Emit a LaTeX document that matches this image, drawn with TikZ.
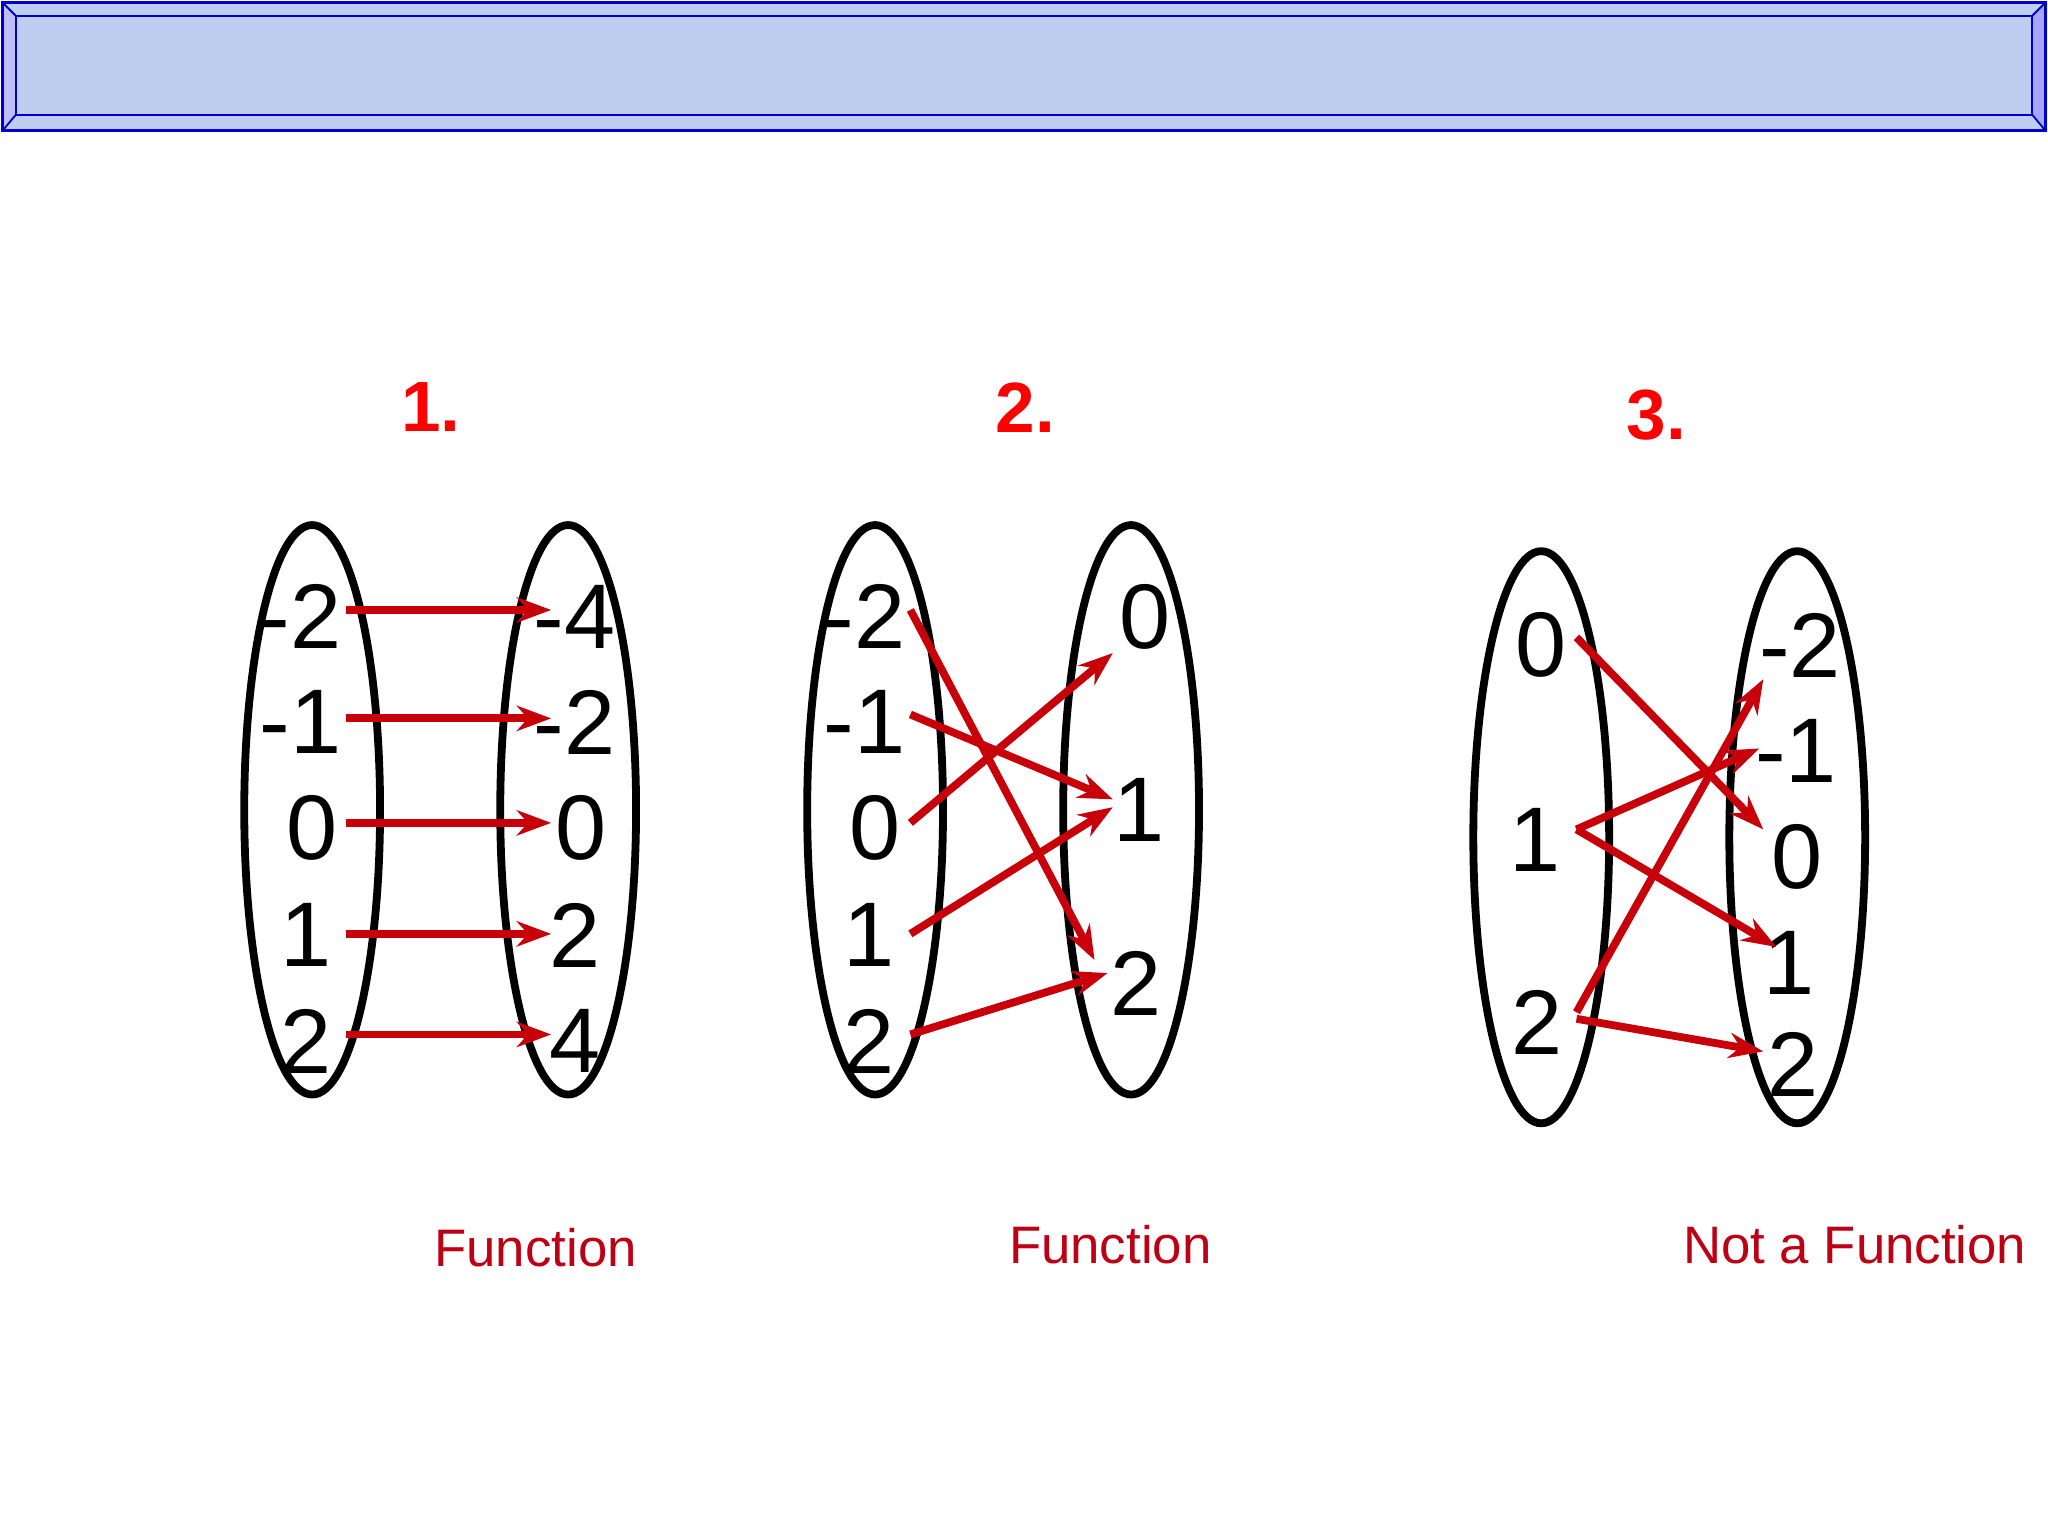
\documentclass[tikz,border=0pt]{standalone}
\usetikzlibrary{arrows.meta}
\usepackage{fontspec}
\setmainfont{Liberation Sans}
\definecolor{arr}{RGB}{200,0,10}
\definecolor{lab}{RGB}{190,0,20}
\definecolor{banner}{RGB}{190,205,240}
\begin{document}
\begin{tikzpicture}[x=0.02cm,y=-0.02cm,
  num/.style={font=\fontsize{40}{40}\selectfont,inner sep=0pt},
  ell/.style={line width=3.4pt},
  ar/.style={draw=arr,line width=3.4pt,-{Stealth[length=15pt,width=11pt]}},
  title/.style={text=red,font=\fontsize{31}{31}\selectfont\bfseries},
  verdict/.style={text=lab,font=\fontsize{23}{23}\selectfont}]
\useasboundingbox (0,0) rectangle (1568,1176);
% banner
\fill[banner] (2,2) rectangle (1566,100);
\fill[blue!25] (2,2) -- (12,12) -- (12,88) -- (2,100) -- cycle;
\fill[blue!35] (1566,2) -- (1556,12) -- (1556,88) -- (1566,100) -- cycle;
\draw[blue!80!black,line width=1pt] (2,2) rectangle (1566,100);
\draw[blue!80!black,line width=0.8pt] (12,12) rectangle (1556,88);
\draw[blue!80!black,line width=0.8pt] (2,2)--(12,12) (1566,2)--(1556,12) (2,100)--(12,88) (1566,100)--(1556,88);
% titles
\node[title] (t1) at (330,312) {1.};
\node[title] (t2) at (785,312) {2.};
\node[title] (t3) at (1268,318) {3.};
\node[verdict] (v1) at (410,955) {Function};
\node[verdict] (v2) at (850,953) {Function};
\node[verdict] (v3) at (1420,953) {Not a Function};
% set 1
\draw[ell] (239,620) ellipse [x radius=52, y radius=218];
\draw[ell] (435,620) ellipse [x radius=52, y radius=218];
\node[num] (a1) at (230,472) {-2};
\node[num] (a2) at (230,553) {-1};
\node[num] (a3) at (239,634) {0};
\node[num] (a4) at (234,716) {1};
\node[num] (a5) at (234,797) {2};
\node[num] (b1) at (440,472) {-4};
\node[num] (b2) at (440,553) {-2};
\node[num] (b3) at (445,634) {0};
\node[num] (b4) at (440,716) {2};
\node[num] (b5) at (440,797) {4};
\foreach \y [count=\i] in {467,550,630,715,792}{
  \coordinate (s1\i) at (265,\y); \coordinate (e1\i) at (422,\y);
  \draw[ar] (s1\i) -- (e1\i);}
% set 2
\draw[ell] (670,620) ellipse [x radius=52, y radius=218];
\draw[ell] (866,620) ellipse [x radius=52, y radius=218];
\node[num] (c1) at (662,472) {-2};
\node[num] (c2) at (662,553) {-1};
\node[num] (c3) at (670,634) {0};
\node[num] (c4) at (665,716) {1};
\node[num] (c5) at (665,797) {2};
\node[num] (d1) at (877,472) {0};
\node[num] (d2) at (872,620) {1};
\node[num] (d3) at (870,753) {2};
\coordinate (p1) at (697,467); \coordinate (q1) at (838,735);
\coordinate (p2) at (697,547); \coordinate (q2) at (852,612);
\coordinate (p3) at (697,630); \coordinate (q3) at (852,500);
\coordinate (p4) at (697,715); \coordinate (q4) at (852,618);
\coordinate (p5) at (697,792); \coordinate (q5) at (848,745);
\foreach \i in {1,...,5}{\draw[ar] (p\i) -- (q\i);}
% set 3
\draw[ell] (1180,641) ellipse [x radius=52, y radius=219];
\draw[ell] (1376,641) ellipse [x radius=52, y radius=219];
\node[num] (f1) at (1180,494) {0};
\node[num] (f2) at (1175,643) {1};
\node[num] (f3) at (1177,783) {2};
\node[num] (g1) at (1378,494) {-2};
\node[num] (g2) at (1375,575) {-1};
\node[num] (g3) at (1376,656) {0};
\node[num] (g4) at (1370,737) {1};
\node[num] (g5) at (1373,815) {2};
\coordinate (m1) at (1207,488); \coordinate (n1) at (1350,635);
\coordinate (m2) at (1207,635); \coordinate (n2) at (1347,573);
\coordinate (m3) at (1207,635); \coordinate (n3) at (1360,725);
\coordinate (m4) at (1207,775); \coordinate (n4) at (1350,520);
\coordinate (m5) at (1207,780); \coordinate (n5) at (1350,805);
\foreach \i in {1,...,5}{\draw[ar] (m\i) -- (n\i);}
\end{tikzpicture}
\end{document}
